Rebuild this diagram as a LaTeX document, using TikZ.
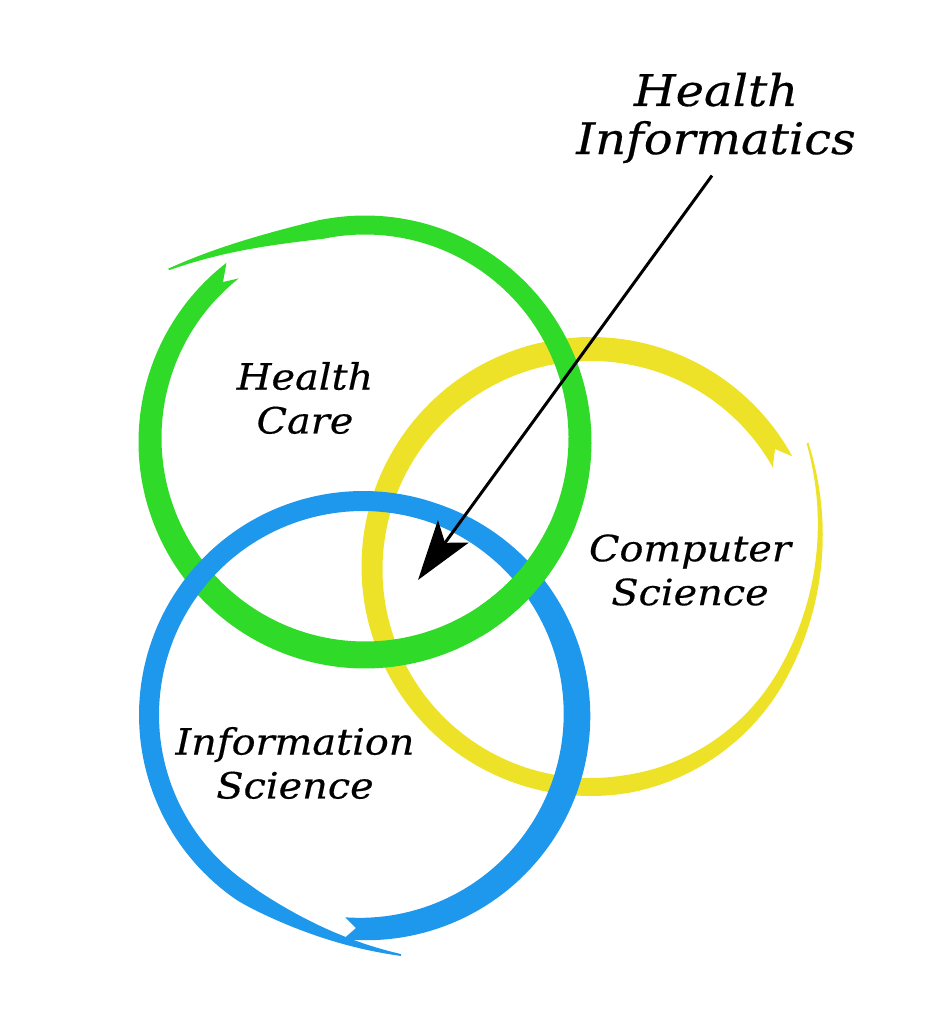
\documentclass[tikz,border=0pt]{standalone}
\usepackage{fontspec}
\usepackage{tikz}
\usetikzlibrary{arrows.meta}

\newfontfamily\handfont[FakeStretch=1.1,FakeBold=0.4]{DejaVu Serif}

\definecolor{careGreen}{RGB}{48,218,40}
\definecolor{compYellow}{RGB}{238,226,40}
\definecolor{infoBlue}{RGB}{30,152,236}

% radius and width of each brush ring along its angle
\pgfmathdeclarefunction{greenrad}{1}{\pgfmathparse{215+((#1) < -100 ? 45*((-100-(#1))/39)^2 : 0)}}
\pgfmathdeclarefunction{greenwid}{1}{\pgfmathparse{(#1) < -100 ? 2+18*((#1)+139)/39 : 23+4*sin(#1)}}
\pgfmathdeclarefunction{yellowrad}{1}{\pgfmathparse{219+((#1) < -330 ? 31*((-330-(#1))/60)^2 : 0)}}
\pgfmathdeclarefunction{yellowwid}{1}{\pgfmathparse{(#1) < -280 ? 2+16*((#1)+390)/110 : 21-3*sin(#1)}}
\pgfmathdeclarefunction{bluerad}{1}{\pgfmathparse{214+((#1) < -240 ? 29*((-240-(#1))/39)^2 : 0)}}
\pgfmathdeclarefunction{bluewid}{1}{\pgfmathparse{(#1) < -236 ? 2+18*((#1)+279)/43 : 20+7*max(0,cos((#1)-20))}}

% Health Care ring outline, used twice
\newcommand{\carering}{plot[domain=-139:232, samples=200]
    ({365+(greenrad(\x)+greenwid(\x)/2)*cos(\x)}, {440+(greenrad(\x)+greenwid(\x)/2)*sin(\x)})
    -- (223,282)
    -- plot[domain=232:-139, samples=200]
    ({365+(greenrad(\x)-greenwid(\x)/2)*cos(\x)}, {440+(greenrad(\x)-greenwid(\x)/2)*sin(\x)})
    -- cycle}

\tikzset{
    label text/.style={
        font={\handfont\itshape\fontsize{10.3}{12.5}\selectfont},
        align=center
    },
    title text/.style={
        font={\handfont\itshape\fontsize{12.4}{13.7}\selectfont},
        align=center
    },
    pointer/.style={
        line width=0.85pt,
        -{Stealth[length=6mm,width=3.8mm,inset=1.4mm]}
    }
}

\begin{document}
\begin{tikzpicture}[x=0.1mm, y=-0.1mm]

    \useasboundingbox (0,0) rectangle (941,1024);

    % Computer Science ring
    \fill[compYellow] plot[domain=-390:-29, samples=200]
        ({591+(yellowrad(\x)+yellowwid(\x)/2)*cos(\x)}, {568+(yellowrad(\x)+yellowwid(\x)/2)*sin(\x)})
        -- (775,449)
        -- plot[domain=-29:-390, samples=200]
        ({591+(yellowrad(\x)-yellowwid(\x)/2)*cos(\x)}, {568+(yellowrad(\x)-yellowwid(\x)/2)*sin(\x)})
        -- cycle;

    % Health Care ring
    \fill[careGreen] \carering;

    % Information Science ring
    \fill[infoBlue] plot[domain=-279:95, samples=200]
        ({363+(bluerad(\x)+bluewid(\x)/2)*cos(\x)}, {715+(bluerad(\x)+bluewid(\x)/2)*sin(\x)})
        -- (356,928)
        -- plot[domain=95:-279, samples=200]
        ({363+(bluerad(\x)-bluewid(\x)/2)*cos(\x)}, {715+(bluerad(\x)-bluewid(\x)/2)*sin(\x)})
        -- cycle;

    % green passes over blue on the right
    \begin{scope}
        \clip (480,525) rectangle (595,635);
        \fill[careGreen] \carering;
    \end{scope}

    % Labels
    \node[label text] (care) at (305,398) {Health\\Care};
    \node[label text] (comp) at (690,570) {Computer\\Science};
    \node[label text] (info) at (295,763) {Information\\Science};
    \node[title text] (hi) at (716,118) {Health\\Informatics};

    % Arrow into the overlap
    \coordinate (core) at (418,580);
    \draw[pointer] ([xshift=-0.4mm]hi.south) -- (core);

\end{tikzpicture}
\end{document}
